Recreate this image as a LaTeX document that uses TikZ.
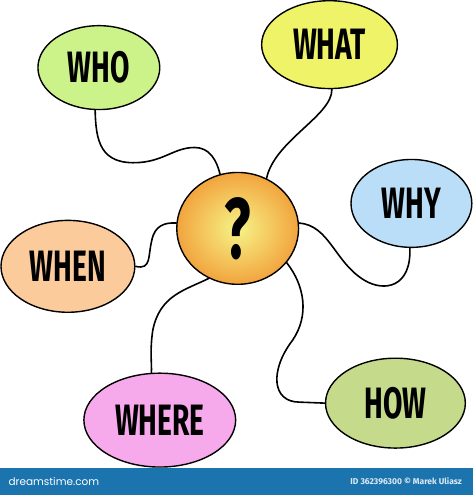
\documentclass[tikz,border=0pt]{standalone}
\usepackage{fontspec}
\usepackage{tikz}
\usetikzlibrary{shapes.geometric}
\newfontfamily\handfont[FakeStretch=0.64]{Fira Sans}
\newfontfamily\creditfont{Fira Sans}
\newfontfamily\sitefont{Poppins}
\definecolor{whocol}{RGB}{204,242,138}
\definecolor{whatcol}{RGB}{238,243,104}
\definecolor{whycol}{RGB}{186,222,248}
\definecolor{whencol}{RGB}{251,203,156}
\definecolor{wherecol}{RGB}{246,170,236}
\definecolor{howcol}{RGB}{198,218,140}
\definecolor{qin}{RGB}{246,244,135}
\definecolor{qout}{RGB}{242,164,62}
\definecolor{barblue}{RGB}{28,116,174}

\begin{document}
\begin{tikzpicture}[x=1pt,y=-1pt,
        bubble/.style={ellipse,draw=black,line width=1.4pt,inner sep=0pt,
            font=\handfont\bfseries\fontsize{44}{44}\selectfont},
        link/.style={line width=1.6pt,line cap=round}]
        \fill[white] (0,0) rectangle (474,495);
        \node[bubble,inner color=qin,outer color=qout,minimum width=122pt,minimum height=112pt,
            font=\handfont\bfseries\fontsize{86}{86}\selectfont] (q) at (238,228) {?};
        \node[bubble,fill=whocol,minimum width=122pt,minimum height=84pt] (who) at (99,67) {WHO};
        \node[bubble,fill=whatcol,minimum width=136pt,minimum height=88pt] (what) at (330,44) {WHAT};
        \node[bubble,fill=whycol,minimum width=121pt,minimum height=88pt] (why) at (412,203) {WHY};
        \node[bubble,fill=whencol,minimum width=134pt,minimum height=92pt] (when) at (68,266) {WHEN};
        \node[bubble,fill=wherecol,minimum width=152pt,minimum height=94pt] (where) at (160,420) {WHERE};
        \node[bubble,fill=howcol,minimum width=140pt,minimum height=90pt] (how) at (396,403) {HOW};
        \draw[link] (who.-95) .. controls (96,140) and (100,165) .. (140,162)
            .. controls (165,160) and (175,147) .. (195,147)
            .. controls (210,147) and (217,160) .. (q.108);
        \draw[link] (what.-87) .. controls (333,115) and (275,140) .. (q.60);
        \draw[link] (q.5) .. controls (330,225) and (335,262) .. (365,280)
            .. controls (385,292) and (412,287) .. (why.-92);
        \draw[link] (when.east) .. controls (152,270) and (148,255) .. (152,240)
            .. controls (155,225) and (165,222) .. (q.175);
        \draw[link] (q.-120) .. controls (185,290) and (160,295) .. (153,330)
            .. controls (150,350) and (152,362) .. (where.100);
        \draw[link] (q.-35) .. controls (305,285) and (310,315) .. (293,340)
            .. controls (270,370) and (272,402) .. (300,402) -- (how.west);
        \fill[barblue] (0,468) rectangle (474,495);
        \node[anchor=west,text=white,font=\sitefont\fontsize{10.5}{10.5}\selectfont] (site) at (5,482) {dreamstime.com};
        \node[anchor=east,text=white!85!barblue,font=\creditfont\bfseries\fontsize{8.5}{8.5}\selectfont] (credit) at (466,481)
            {ID 362396300 \textcopyright{} Marek Uliasz};
    \end{tikzpicture}
\end{document}
